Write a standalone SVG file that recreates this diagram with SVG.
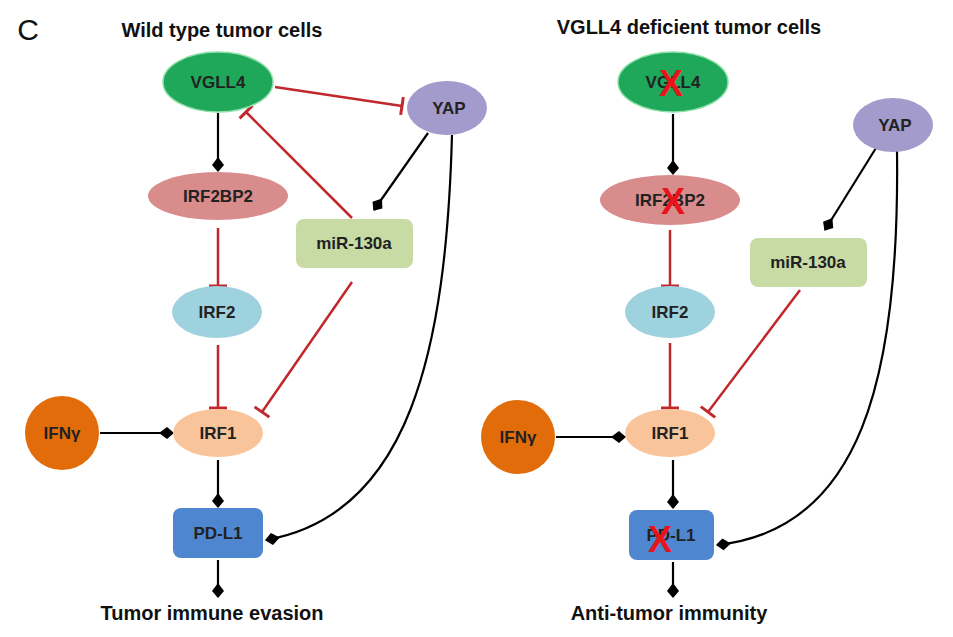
<svg xmlns="http://www.w3.org/2000/svg" width="953" height="637" viewBox="0 0 953 637">
<style>
text{font-family:"Liberation Sans",Arial,sans-serif;font-weight:bold;text-anchor:middle}
.t{font-size:20px;fill:#111}
.n{font-size:17px;fill:#222}
.x{font-size:36px;fill:#e8141c;font-weight:bold}
.k{stroke:#000;stroke-width:2.2;fill:none}
.r{stroke:#c0282d;stroke-width:2.5;fill:none}
.ka{marker-end:url(#ar)}
.ra{marker-end:url(#tee)}
</style>
<defs>
<marker id="ar" viewBox="-14 -8 16 16" refX="0" refY="0" markerWidth="16" markerHeight="16" markerUnits="userSpaceOnUse" orient="auto"><path d="M-14,0 L-6,-6 L1,0 L-6,6 Z" fill="#000"/></marker>
<marker id="tee" viewBox="-3 -10 6 20" refX="0" refY="0" markerWidth="6" markerHeight="20" markerUnits="userSpaceOnUse" orient="auto"><path d="M0,-9 L0,9" stroke="#c0282d" stroke-width="3"/></marker>
</defs>
<rect width="953" height="637" fill="#fff"/>
<text x="28" y="40" style="font-size:30px;font-weight:normal;fill:#111">C</text>
<text class="t" x="222" y="37">Wild type tumor cells</text>
<text class="t" x="689" y="34">VGLL4 deficient tumor cells</text>
<text class="t" x="212" y="620">Tumor immune evasion</text>
<text class="t" x="669" y="620">Anti-tumor immunity</text>

<g id="connectors">
<path class="r ra" d="M275,87 L402,106"/>
<path class="r ra" d="M352,218 L246,112"/>
<path class="k ka" d="M428,133 L374,210"/>
<path class="k ka" d="M218,113 L218,171"/>
<path class="r ra" d="M218,228 L218,286"/>
<path class="r ra" d="M218,345 L218,408"/>
<path class="r ra" d="M352,282 L262,412"/>
<path class="k ka" d="M100,433 L173,433"/>
<path class="k ka" d="M218,460 L218,507"/>
<path class="k ka" d="M452,135 C446,350 410,515 266,540"/>
<path class="k ka" d="M218,560 L218,597"/>

<path class="k ka" d="M673,114 L673,174"/>
<path class="r ra" d="M670,230 L670,286"/>
<path class="r ra" d="M670,343 L670,408"/>
<path class="k ka" d="M876,148 L825,230"/>
<path class="r ra" d="M800,290 L708,412"/>
<path class="k ka" d="M556,437 L625,437"/>
<path class="k ka" d="M673,460 L673,508"/>
<path class="k ka" d="M897,150 C900,380 860,530 717,545"/>
<path class="k ka" d="M673,562 L673,597"/>
</g>

<g id="VGLL4"><ellipse cx="218" cy="82" rx="55" ry="30" fill="#1fa85a" stroke="#8ee0a8" stroke-width="1.5"/><text class="n" x="218" y="88">VGLL4</text></g>
<g id="YAP"><ellipse cx="447" cy="108" rx="40" ry="27" fill="#a39bcb"/><text class="n" x="449" y="114">YAP</text></g>
<g id="IRF2BP2"><ellipse cx="218" cy="196" rx="70" ry="24" fill="#d98c8c"/><text class="n" x="218" y="202">IRF2BP2</text></g>
<g id="miR-130a"><rect x="296" y="219" width="117" height="49" rx="8" fill="#c8dba5"/><text class="n" x="354" y="249">miR-130a</text></g>
<g id="IRF2"><ellipse cx="217" cy="312" rx="45" ry="26" fill="#9fd2df"/><text class="n" x="217" y="318">IRF2</text></g>
<g id="IFNg"><circle cx="62" cy="433" r="37" fill="#e36c0a"/><text class="n" x="62" y="439">IFNγ</text></g>
<g id="IRF1"><ellipse cx="218" cy="433" rx="45" ry="24" fill="#f9c49a"/><text class="n" x="218" y="439">IRF1</text></g>
<g id="PD-L1"><rect x="173" y="508" width="90" height="50" rx="8" fill="#4f86d0"/><text class="n" x="218" y="539">PD-L1</text></g>

<g id="VGLL4-2"><ellipse cx="673" cy="82" rx="55" ry="30" fill="#1fa85a" stroke="#8ee0a8" stroke-width="1.5"/><text class="n" x="673" y="88">VGLL4</text><text class="x" x="671" y="96">X</text></g>
<g id="YAP-2"><ellipse cx="893" cy="125" rx="40" ry="27" fill="#a39bcb"/><text class="n" x="895" y="131">YAP</text></g>
<g id="IRF2BP2-2"><ellipse cx="670" cy="200" rx="70" ry="25" fill="#d98c8c"/><text class="n" x="670" y="206">IRF2BP2</text><text class="x" x="673" y="214">X</text></g>
<g id="miR-130a-2"><rect x="750" y="238" width="117" height="49" rx="8" fill="#c8dba5"/><text class="n" x="808" y="268">miR-130a</text></g>
<g id="IRF2-2"><ellipse cx="670" cy="312" rx="45" ry="26" fill="#9fd2df"/><text class="n" x="670" y="318">IRF2</text></g>
<g id="IFNg-2"><circle cx="518" cy="437" r="37" fill="#e36c0a"/><text class="n" x="518" y="443">IFNγ</text></g>
<g id="IRF1-2"><ellipse cx="670" cy="433" rx="45" ry="24" fill="#f9c49a"/><text class="n" x="670" y="439">IRF1</text></g>
<g id="PD-L1-2"><rect x="629" y="510" width="85" height="50" rx="8" fill="#4f86d0"/><text class="n" x="671" y="541">PD-L1</text><text class="x" x="660" y="552">X</text></g>
</svg>
